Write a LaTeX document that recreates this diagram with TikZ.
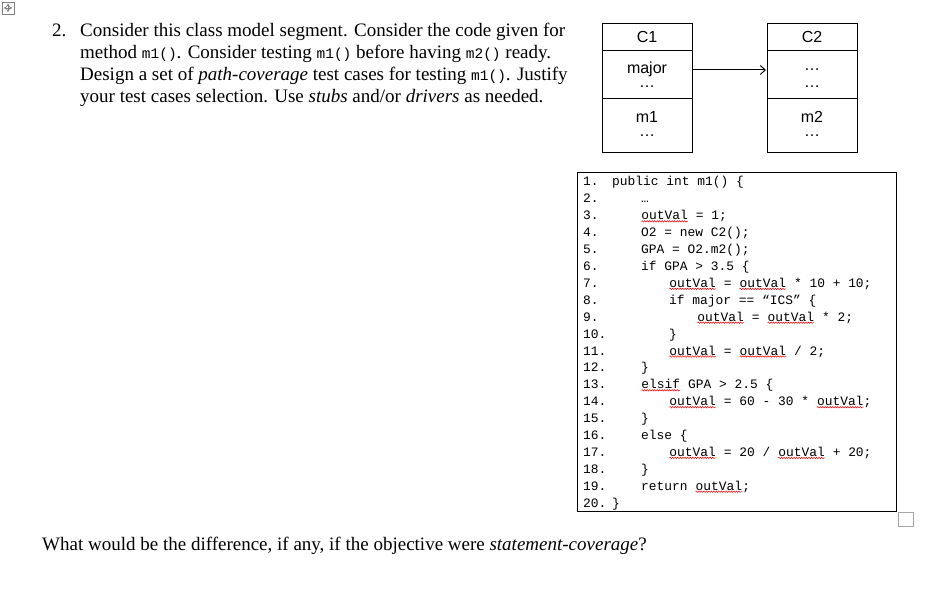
\documentclass[tikz,border=0pt]{standalone}
\usepackage{fontspec}
\setmainfont{Liberation Serif}
\setsansfont{Liberation Sans}
\setmonofont{Liberation Mono}
\usetikzlibrary{decorations.pathmorphing,arrows.meta}
\newcommand\wv[1]{\tikz[baseline=(w.base)]{\node[inner sep=0pt,outer sep=0pt](w){#1};\draw[red,line width=0.5pt,decorate,decoration={snake,amplitude=0.7pt,segment length=2.5pt}] ([yshift=-1.5pt]w.base west)--([yshift=-1.5pt]w.base east);}}
\newcommand\mc[1]{{\ttfamily\fontsize{14.5}{16}\selectfont #1}}
\begin{document}
\begin{tikzpicture}[x=1pt,y=-1pt,
  para/.style={anchor=base west,inner sep=0pt,font=\fontsize{19}{21}\selectfont},
  cl/.style={anchor=base west,inner sep=0pt,font=\ttfamily\fontsize{12.9}{14}\selectfont},
  uml/.style={font=\sffamily\fontsize{16}{17}\selectfont,inner sep=0pt},
  box/.style={draw,line width=0.6pt}]
\useasboundingbox (0,0) rectangle (941,601);
% move icon
\draw[gray,line width=0.5pt] (2,2) rectangle (14,14);
\draw[gray,line width=0.6pt,->,>=stealth] (8,8)--(8,3.5); \draw[gray,line width=0.6pt,->,>=stealth] (8,8)--(8,12.5);
\draw[gray,line width=0.6pt,->,>=stealth] (8,8)--(3.5,8); \draw[gray,line width=0.6pt,->,>=stealth] (8,8)--(12.5,8);
% question text
\node[para] (n2) at (52,37) {2.};
\node[para] (t1) at (80,37) {Consider this class model segment. Consider the code given for};
\node[para] (t2) at (80,59) {method \mc{m1()}. Consider testing \mc{m1()} before having \mc{m2()} ready.};
\node[para] (t3) at (80,81) {Design a set of \textit{path-coverage} test cases for testing \mc{m1()}. Justify};
\node[para] (t4) at (80,103) {your test cases selection. Use \textit{stubs} and/or \textit{drivers} as needed.};
% UML classes
\draw[box] (602,23) rectangle (692,152); \draw[box] (602,50)--(692,50); \draw[box] (602,98)--(692,98);
\draw[box] (767,23) rectangle (857,152); \draw[box] (767,50)--(857,50); \draw[box] (767,98)--(857,98);
\node[uml] (c1) at (647,37) {C1};
\node[uml] (maj) at (647,69) {major};
\node[uml] (d1) at (647,87) {\dots};
\node[uml] (m1) at (647,117) {m1};
\node[uml] (d2) at (647,136) {\dots};
\node[uml] (c2) at (812,37) {C2};
\node[uml] (d3) at (812,70) {\dots};
\node[uml] (d4) at (812,87) {\dots};
\node[uml] (m2) at (812,117) {m2};
\node[uml] (d5) at (812,136) {\dots};
\coordinate (a1) at (692,70); \coordinate (a2) at (766,70);
\draw[line width=1pt,-{Straight Barb[length=5pt,width=9pt]}] (a1)--(a2);
% code box
\draw[line width=0.7pt] (577,172) rectangle (896,511);
\foreach \i in {1,...,20}{\node[cl] (ln\i) at (583,{186+(\i-1)*16.9}) {\i.};}
\node[cl] (c1l) at (612,186) {public int m1() \{};
\node[cl] (c2l) at (641,{186+1*16.9}) {…};
\node[cl] (c3l) at (641,{186+2*16.9}) {\wv{outVal} = 1;};
\node[cl] (c4l) at (641,{186+3*16.9}) {O2 = new C2();};
\node[cl] (c5l) at (641,{186+4*16.9}) {GPA = O2.m2();};
\node[cl] (c6l) at (641,{186+5*16.9}) {if GPA > 3.5 \{};
\node[cl] (c7l) at (669,{186+6*16.9}) {\wv{outVal} = \wv{outVal} * 10 + 10;};
\node[cl] (c8l) at (669,{186+7*16.9}) {if major == “ICS” \{};
\node[cl] (c9l) at (697,{186+8*16.9}) {\wv{outVal} = \wv{outVal} * 2;};
\node[cl] (c10l) at (669,{186+9*16.9}) {\}};
\node[cl] (c11l) at (669,{186+10*16.9}) {\wv{outVal} = \wv{outVal} / 2;};
\node[cl] (c12l) at (641,{186+11*16.9}) {\}};
\node[cl] (c13l) at (641,{186+12*16.9}) {\wv{elsif} GPA > 2.5 \{};
\node[cl] (c14l) at (669,{186+13*16.9}) {\wv{outVal} = 60 - 30 * \wv{outVal};};
\node[cl] (c15l) at (641,{186+14*16.9}) {\}};
\node[cl] (c16l) at (641,{186+15*16.9}) {else \{};
\node[cl] (c17l) at (669,{186+16*16.9}) {\wv{outVal} = 20 / \wv{outVal} + 20;};
\node[cl] (c18l) at (641,{186+17*16.9}) {\}};
\node[cl] (c19l) at (641,{186+18*16.9}) {return \wv{outVal};};
\node[cl] (c20l) at (612,{186+19*16.9}) {\}};
% checkbox
\draw[gray!70,line width=0.8pt] (898,512) rectangle (913,526);
% bottom question
\node[para] (q) at (42,550) {What would be the difference, if any, if the objective were \textit{statement-coverage}?};
\end{tikzpicture}
\end{document}
